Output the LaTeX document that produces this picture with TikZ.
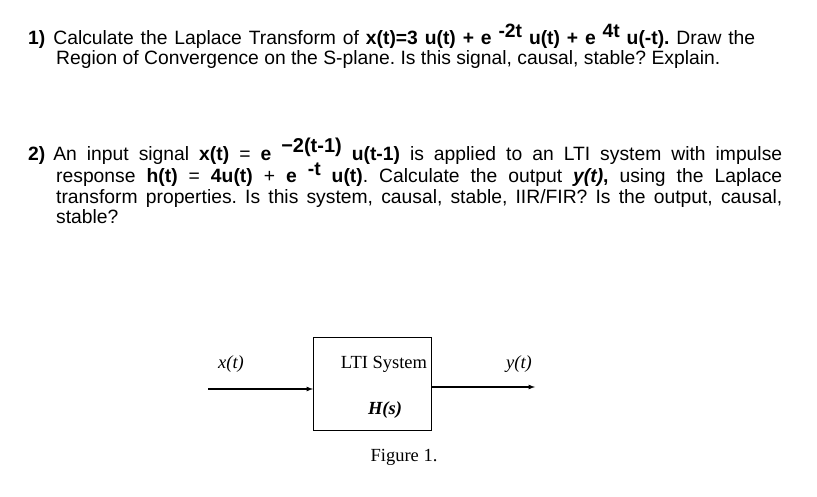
\documentclass[tikz,border=0pt]{standalone}
\usepackage{fontspec}
\setmainfont{Liberation Sans}
\newfontfamily\serif{Liberation Serif}
\frenchspacing
\begin{document}
\begin{tikzpicture}[x=1pt,y=-1pt,
  ln/.style={anchor=base west,inner sep=0pt,font=\fontsize{19.3}{22}\selectfont},
  lab/.style={inner sep=0pt,font=\serif\fontsize{18.5}{20}\selectfont},
  arr/.style={-latex,line width=1.2pt}]
\useasboundingbox (0,0) rectangle (817,497);
\newcommand\sps[1]{\raisebox{7pt}{\textbf{#1}}}
\node[ln] (a1) at (28,45) {\makebox[727pt][s]{\textbf{1)}\hspace{8pt}Calculate the Laplace Transform of \textbf{x(t)=3 u(t) + e }\sps{-2t}\textbf{ u(t) + e }\sps{4t}\textbf{ u(-t).} Draw the}};
\node[ln] (a2) at (56,65) {Region of Convergence on the S-plane. Is this signal, causal, stable? Explain.};
\node[ln] (b1) at (28,161) {\makebox[754pt][s]{\textbf{2)}\hspace{8pt}An input signal \textbf{x(t)} = \textbf{e} \raisebox{8pt}{\fontsize{20}{22}\selectfont\textbf{−2(t-1)}} \textbf{u(t-1)} is applied to an LTI system with impulse}};
\node[ln] (b2) at (56,183) {\makebox[726pt][s]{response \textbf{h(t)} = \textbf{4u(t)} + \textbf{e} \sps{-t} \textbf{u(t)}. Calculate the output \textbf{\textit{y(t)},} using the Laplace}};
\node[ln] (b3) at (56,204) {\makebox[726pt][s]{transform properties. Is this system, causal, stable, IIR/FIR? Is the output, causal,}};
\node[ln] (b4) at (56,224) {stable?};
\draw[line width=0.8pt] (313,337) rectangle (431,430);
\coordinate (bl) at (313,389); \coordinate (br) at (431,387);
\coordinate (in) at (208,389); \coordinate (out) at (535,387);
\draw[arr] (in) -- (bl);
\draw[arr] (br) -- (out);
\node[lab] (x) at (231,364) {\textit{x(t)}};
\node[lab] (y) at (519,364) {\textit{y(t)}};
\node[lab] (lti) at (384,364) {LTI System};
\node[lab] (h) at (385,410) {\textit{\textbf{H(s)}}};
\node[lab] (f) at (404,457) {Figure 1.};
\end{tikzpicture}
\end{document}
